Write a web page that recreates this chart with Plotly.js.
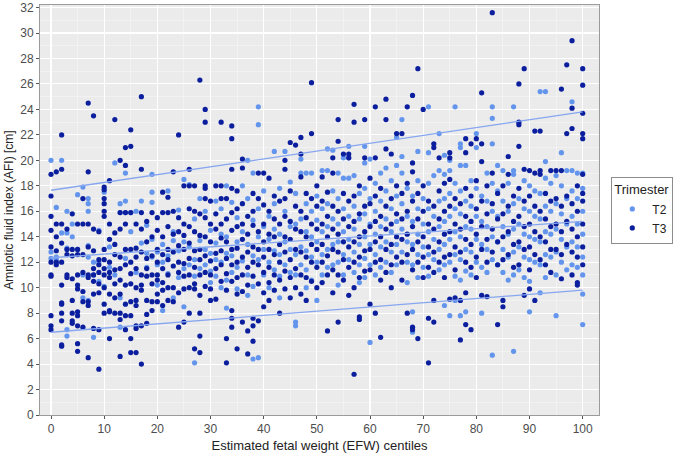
<!DOCTYPE html>
<html>
<head>
<meta charset="utf-8">
<script src="https://cdn.plot.ly/plotly-3.0.1.min.js"></script>
<style>
html,body{margin:0;padding:0;background:#fff;}
#chart{width:685px;height:454px;}
</style>
</head>
<body>
<div id="chart"></div>
<script>
// AFI values (cm) read per EFW centile (index = centile 0..100)
const t3ByCentile = [
[18.9,17.2,15.6,14.5,13.2,12.0,11.0,10.9,7.8,7.0,6.7],
[19.1,15.0,14.0,12.9,12.0,11.8],
[22.0,19.3,15.0,13.5,12.0,10.2,8.8,8.7,8.0,7.4,5.5,5.4],
[14.6,13.0,12.6,11.0,10.8],
[15.8,13.0,12.5,10.7,9.0,8.0,7.4,7.2],
[15.0,13.0,12.6,11.0,10.2,9.9,8.1,7.8,7.0,5.6,5.0],
[17.0,15.0,12.6,11.2,9.7,8.9,6.9],
[24.5,19.1,15.0,13.2,11.0,10.8,8.9,8.6,4.5],
[23.5,14.6,12.9,11.5,11.0,10.5,9.5,6.8],
[14.4,12.2,11.8,11.2,10.3,9.6,6.7,3.6],
[17.9,17.7,17.0,16.6,16.0,15.6,13.0,12.2,11.5,11.0,10.0,8.7,8.0],
[18.4,15.0,13.8,12.0,11.2,10.8,9.5,8.2,8.1,6.0],
[23.2,14.3,13.4,12.6,11.4,10.3,9.2,8.0],
[20.0,15.9,14.6,12.4,11.5,10.6,9.5,8.0,7.5,4.6],
[21.0,19.6,15.9,15.0,13.0,11.8,10.2,8.7,7.8,6.7],
[22.4,21.1,15.9,13.0,12.0,11.1,10.3,8.9,7.8,6.0,4.9],
[15.0,13.1,12.4,11.5,10.0,9.0,8.6,7.0,6.8,4.9],
[25.0,19.3,15.9,14.6,12.8,11.0,10.2,9.8,7.0,4.0],
[15.2,13.6,12.3,11.5,10.9,9.0,7.9,7.2],
[15.9,14.0,12.5,11.0,10.3,8.9,8.2],
[15.5,14.5,13.0,12.0,11.0,10.6,9.5,8.9],
[17.5,15.9,14.0,12.6,11.5,10.4,9.8,8.6],
[17.1,15.9,14.8,13.0,12.2,11.0,10.0,9.0],
[19.1,16.0,14.2,12.8,11.7,10.0,8.9],
[22.0,15.5,14.4,13.3,12.0,11.2,9.6,6.9],
[18.0,15.0,14.1,13.0,11.9,10.9,9.9,7.3],
[19.3,18.0,16.2,14.8,13.5,12.3,11.0,10.0,8.0],
[18.0,16.0,14.4,12.9,11.6,10.3,9.9,5.2],
[26.3,15.8,14.1,13.0,12.2,11.0,9.4,8.0,6.2,4.9],
[24.0,23.0,18.0,17.8,17.0,15.5,14.0,12.5,11.2,10.1],
[16.8,15.0,13.6,12.1,11.0,9.9,9.0],
[18.0,15.8,14.6,12.7,11.5,9.1],
[23.0,18.0,17.0,15.0,13.9,12.9,11.8,10.5],
[17.0,15.4,13.6,12.3,11.1,9.8,6.0,4.1],
[22.7,21.7,19.3,17.8,15.9,14.5,13.0,11.8,10.5,8.2,7.6,6.9],
[17.6,16.2,14.8,13.1,12.0,10.8,9.5,5.2],
[20.1,19.4,16.6,15.0,13.8,12.4,11.0,9.7,7.3],
[15.6,14.2,12.8,11.6,10.2,6.6,4.8],
[17.4,16.0,14.9,13.2,12.0,10.9,7.6,7.0,5.8],
[19.0,17.0,14.4,13.0,11.8,10.3,7.4],
[19.0,16.5,15.0,13.6,12.4,11.2,9.6,8.5],
[18.6,16.0,14.2,13.0,11.6,10.4,9.0],
[17.2,15.4,14.0,12.6,11.0,9.8],
[16.8,15.0,13.4,12.0,10.6,8.0],
[20.0,19.3,17.0,15.6,14.0,12.8,11.3,9.9],
[21.4,17.6,15.2,13.8,12.2,10.8,9.2],
[21.2,16.4,14.6,13.0,11.5,10.0],
[21.8,20.5,18.7,16.0,14.4,12.8,11.0,9.5],
[17.4,15.5,14.0,12.4,10.8,9.0],
[26.1,22.1,17.0,15.0,13.4,12.0,10.5],
[18.0,16.4,14.6,13.0,11.6,10.0],
[18.7,16.8,15.0,13.4,12.0,10.4],
[17.5,15.6,14.0,12.5,11.0,6.6],
[20.2,19.0,16.4,14.6,13.0,11.4,9.6],
[23.2,21.5,16.0,14.2,12.8,11.0,7.3],
[20.5,17.4,15.4,13.6,12.2,10.6],
[20.5,20.2,16.8,14.8,13.2,11.6,9.4],
[24.4,23.0,17.2,15.2,13.6,12.0,10.0,3.2],
[18.0,15.8,14.0,12.4,10.8,7.7,7.5],
[23.2,20.2,16.4,14.4,12.9,11.3],
[18.6,16.6,14.8,13.0,11.4,8.7],
[24.2,20.2,17.2,15.2,13.6,12.0,8.0],
[17.8,15.6,14.0,12.2,10.6,6.1],
[24.8,23.2,20.9,16.4,14.6,13.0,11.2],
[20.5,17.0,15.0,13.4,11.8,10.0],
[22.1,18.0,15.8,14.0,12.4],
[22.1,17.4,15.4,13.8,12.0,10.6],
[24.2,18.2,16.0,14.2,12.6,8.0],
[25.1,19.8,19.1,16.8,14.8,13.0,11.4,6.9,6.7],
[27.2,17.4,15.4,13.6,12.0,6.0],
[24.0,18.0,16.0,14.0,12.4,10.8],
[16.8,15.0,13.2,11.6,7.6,4.1],
[21.3,21.0,16.4,14.6,12.8,11.2,9.0,7.3],
[20.2,17.6,15.4,13.6,12.0],
[18.2,16.0,14.2,12.4,10.8],
[20.6,20.2,18.5,16.4,14.4,12.6,9.1],
[17.0,15.0,13.2,11.4,9.2],
[16.6,14.6,12.8,9.0,5.9],
[21.7,20.6,17.8,15.6,13.8,12.0,9.6,7.1],
[21.3,17.2,15.2,13.4,11.6,6.7],
[21.7,18.4,16.2,14.2,12.4,10.8],
[25.3,21.3,19.9,16.8,14.8,13.0,9.4],
[18.0,15.8,13.8,12.0,9.3],
[31.6,19.0,16.6,14.6,12.8],
[17.4,15.4,13.6,11.8,7.1],
[18.0,15.8,14.0,12.2,9.0,8.5],
[20.3,18.9,16.4,14.4,12.6],
[17.2,15.2,13.4,11.6],
[26.0,23.0,22.8,21.1,17.8,15.6,13.6,11.8],
[27.2,19.3,16.8,14.8,13.0,9.4],
[19.2,17.2,15.0,13.2,11.4,9.9],
[22.3,19.0,16.4,14.4,12.6,9.0],
[22.3,19.2,18.9,16.0,14.0,12.2],
[17.4,15.4,13.6,11.8],
[19.2,16.8,14.8,13.0,11.2],
[19.2,17.0,15.0,13.0],
[25.6,19.2,16.4,14.4,12.6,10.7],
[27.5,22.1,17.2,15.2,13.4],
[29.4,24.1,22.5,16.6,14.6,12.8,11.0],
[18.0,16.0,14.0,12.4,10.4,10.2],
[27.2,25.9,23.7,22.1,21.7,18.9,17.4,16.8,15.0,13.2,11.8]
];
const t2ByCentile = [
[20.0,12.3,12.8],
[16.3,12.4,12.2],
[20.0,14.3],
[16.0,14.3,13.1,6.7,6.2],
[15.0,14.0],
[17.3,13.0],
[17.9,11.0,9.2],
[17.0,16.6,16.0,13.3,12.4,9.0],
[12.0,11.0,6.1],
[14.5,12.0,10.5],
[17.5,10.1],
[13.2,11.6],
[19.8,11.0],
[16.6,15.9,9.2,6.9],
[19.0,16.8,15.9,12.3],
[15.9,14.4],
[16.0,11.2],
[16.8,13.5],
[14.9,12.7,11.6],
[18.9,17.5,16.7,13.8,12.4],
[12.8,11.8,10.2],
[13.4,12.0,8.2],
[17.6,12.5,11.1],
[14.4,13.7,9.2],
[16.1,12.9,10.8],
[18.5,13.6,11.5,8.5],
[18.1,13.2,11.8],
[15.4,12.2,10.9,4.1],
[17.0,13.7,11.5],
[16.0,13.0,11.8],
[14.5,12.7,11.3,10.4],
[16.8,13.5,12.2,10.9],
[16.2,14.2,12.0,10.0],
[18.0,14.0,12.7,10.6,8.4],
[16.7,12.5,11.2],
[15.5,13.6,11.6,9.9],
[18.0,14.4,12.1],
[20.0,17.0,13.4,11.0,9.4],
[19.0,15.3,12.5,10.1,4.4],
[24.2,22.8,16.2,14.0,12.2,4.5],
[17.6,14.8,13.0,11.0],
[15.6,13.8,12.0,10.0],
[20.7,16.6,14.6,12.9,11.4],
[17.8,14.2,12.6,10.9,9.2],
[20.7,16.0,13.6,11.8],
[18.3,14.8,13.0,11.2],
[17.4,15.0,12.6,11.0,7.3,7.0],
[20.1,19.0,15.4,13.2,11.8],
[19.0,16.6,14.4,12.9,11.4,10.0],
[19.0,16.0,14.0,12.4,10.6],
[17.2,15.3,13.6,12.0,9.0],
[19.2,16.2,14.4,12.6,11.0],
[20.9,19.2,16.6,14.8,13.0,11.6],
[20.8,17.6,15.4,13.4,11.8],
[19.0,17.0,15.0,13.6,12.0,10.2],
[20.2,18.6,16.2,14.4,12.6,11.0],
[21.1,20.2,18.6,15.6,13.8,12.2],
[18.8,16.4,14.6,12.8,11.2],
[17.4,15.4,13.4,11.8,10.4],
[21.1,19.8,17.8,15.8,14.0,12.3,10.8],
[20.1,17.0,15.0,13.4,11.8,5.7],
[18.2,16.0,14.2,12.6,11.0],
[19.0,16.8,14.8,13.2,11.6],
[19.4,17.6,15.4,13.6,12.0],
[18.4,16.2,14.4,12.8,11.2],
[21.8,19.6,17.2,15.2,13.4,11.8],
[23.2,20.3,19.0,16.6,14.6,12.8],
[17.8,15.6,13.6,12.0,10.4],
[17.2,15.2,13.4,11.8,8.1,6.5],
[20.7,18.4,16.2,14.2,12.6,10.8],
[17.0,15.0,13.2,11.6],
[24.2,20.6,18.2,16.2,14.4,12.6,10.9],
[18.8,15.6,13.8,12.2],
[22.1,19.2,16.8,14.8,13.0,11.4],
[20.4,18.9,17.0,15.2,13.4,11.8,8.6],
[20.0,19.2,17.4,15.6,13.8,12.0,7.8],
[24.2,18.2,16.2,14.4,12.6,10.9,9.0],
[21.3,21.0,19.6,17.6,15.8,14.0,12.2,10.6,7.8],
[19.6,16.8,14.8,13.0,11.3,8.1],
[18.4,16.4,14.6,12.8,11.0],
[22.1,21.0,17.8,15.6,13.8,12.0],
[17.2,15.2,13.4,11.6,8.0],
[19.0,16.8,14.8,13.0,11.2],
[24.2,23.3,21.3,18.2,16.0,14.0,12.2,4.7],
[19.6,17.6,15.6,13.6,11.8],
[19.2,16.8,14.8,13.0,11.2],
[18.2,16.0,14.2,12.4,10.6],
[24.2,19.2,18.9,16.6,14.6,12.8,11.0,5.0],
[17.0,15.0,13.2,11.4],
[18.4,16.2,14.2,12.4,10.8],
[18.0,16.0,14.0,12.2,10.5,8.1],
[17.6,15.6,13.8,12.0],
[25.4,17.4,15.4,13.6,11.8,9.6],
[25.4,19.9,18.6,16.4,14.4,12.6,10.8],
[18.2,16.0,14.2,12.4],
[18.8,16.6,14.6,12.8,11.0,7.8],
[20.6,18.0,15.8,13.8,12.0],
[19.2,17.0,15.0,13.2,11.4],
[24.6,19.2,17.6,15.6,13.6,11.8],
[19.0,17.0,15.0,13.2,11.6],
[19.0,17.8,16.0,14.2,12.4,11.0,9.5,7.1]
];
// fitted reference lines (centile endpoints and AFI values)
const fitX = [0, 100];
const fitUpper = [17.65, 23.8];
const fitMedian = [12.35, 15.2];
const fitLower = [6.5, 9.8];

const xTicks = [0,10,20,30,40,50,60,70,80,90,100];
const yTicks = [0,2,4,6,8,10,12,14,16,18,20,22,24,26,28,30,32];

function flatten(cols){
  const xs = [], ys = [];
  cols.forEach((col, i) => col.forEach(v => { xs.push(i); ys.push(v); }));
  return {xs, ys};
}
const t2 = flatten(t2ByCentile);
const t3 = flatten(t3ByCentile);

const colT2 = '#6495ED';
const colT3 = '#0b1f9e';
const lineCol = '#86a6f0';

const traces = [
  {x: t2.xs, y: t2.ys, type: 'scatter', mode: 'markers', name: 'T2',
   marker: {color: colT2, size: 5.2}},
  {x: t3.xs, y: t3.ys, type: 'scatter', mode: 'markers', name: 'T3',
   marker: {color: colT3, size: 5.2}},
  {x: fitX, y: fitUpper, type: 'scatter', mode: 'lines', showlegend: false,
   line: {color: lineCol, width: 1.3}, hoverinfo: 'skip'},
  {x: fitX, y: fitMedian, type: 'scatter', mode: 'lines', showlegend: false,
   line: {color: lineCol, width: 1.3}, hoverinfo: 'skip'},
  {x: fitX, y: fitLower, type: 'scatter', mode: 'lines', showlegend: false,
   line: {color: lineCol, width: 1.3}, hoverinfo: 'skip'}
];

const fam = 'Liberation Sans, Arial, sans-serif';
const layout = {
  width: 685, height: 454,
  margin: {l: 40, r: 86, t: 5, b: 39},
  paper_bgcolor: '#ffffff',
  plot_bgcolor: '#EBEBEB',
  font: {family: fam, size: 12, color: '#4D4D4D'},
  showlegend: true,
  legend: {
    x: 1.022, xanchor: 'left', y: 0.5, yanchor: 'middle',
    bgcolor: '#ffffff', bordercolor: '#8c8c8c', borderwidth: 1,
    title: {text: 'Trimester', font: {size: 13, color: '#222'}},
    font: {size: 12, color: '#222'},
    tracegroupgap: 0
  },
  xaxis: {
    range: [-2.07, 103.07], tickvals: xTicks, ticktext: xTicks.map(String),
    showgrid: true, gridcolor: '#ffffff', gridwidth: 1.1,
    minor: {dtick: 5, tick0: 0, showgrid: true, gridcolor: '#F7F7F7', gridwidth: 0.6},
    zeroline: false, showline: true, mirror: true, linecolor: '#9b9b9b', linewidth: 1,
    ticks: 'outside', ticklen: 3, tickcolor: '#555', tickfont: {size: 12, color: '#4D4D4D'},
    title: {text: 'Estimated fetal weight (EFW) centiles', font: {size: 13, color: '#222'}, standoff: 5}
  },
  yaxis: {
    range: [0, 32.2], tickvals: yTicks, ticktext: yTicks.map(String),
    showgrid: true, gridcolor: '#ffffff', gridwidth: 1.1,
    minor: {dtick: 1, tick0: 0, showgrid: true, gridcolor: '#F7F7F7', gridwidth: 0.6},
    zeroline: false, showline: true, mirror: true, linecolor: '#9b9b9b', linewidth: 1,
    ticks: 'outside', ticklen: 3, tickcolor: '#555', tickfont: {size: 12, color: '#4D4D4D'},
    title: {text: 'Amniotic fluid index (AFI) [cm]', font: {size: 12, color: '#222'}, standoff: 4}
  }
};

Plotly.newPlot('chart', traces, layout, {displayModeBar: false, staticPlot: true});
</script>
</body>
</html>
